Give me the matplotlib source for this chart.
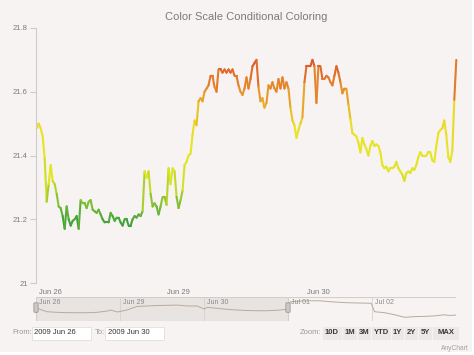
import matplotlib
matplotlib.use("Agg")
import matplotlib.pyplot as plt
import numpy as np
from matplotlib.collections import LineCollection
from matplotlib.colors import LinearSegmentedColormap, Normalize
from matplotlib.patches import Rectangle, FancyBboxPatch

plt.rcParams['font.family'] = ['Liberation Sans', 'DejaVu Sans']

# main series (Jun 26 - Jun 30), one value per point
values = [
    21.485, 21.50, 21.485, 21.46, 21.39, 21.255, 21.31, 21.37, 21.32, 21.31,
    21.28, 21.24, 21.235, 21.21, 21.17, 21.24, 21.20, 21.18, 21.195, 21.20,
    21.21, 21.17, 21.26, 21.25, 21.25, 21.235, 21.255, 21.26, 21.23, 21.225,
    21.22, 21.23, 21.215, 21.20, 21.19, 21.19, 21.19, 21.22, 21.21, 21.195,
    21.205, 21.205, 21.19, 21.18, 21.20, 21.20, 21.18, 21.18, 21.20, 21.21,
    21.205, 21.215, 21.21, 21.225, 21.35, 21.33, 21.35, 21.28, 21.24, 21.25,
    21.24, 21.215, 21.24, 21.27, 21.27, 21.245, 21.36, 21.31, 21.36, 21.35,
    21.27, 21.235, 21.26, 21.29, 21.37, 21.38, 21.40, 21.405, 21.465, 21.51,
    21.495, 21.57, 21.58, 21.57, 21.60, 21.61, 21.62, 21.65, 21.65, 21.615,
    21.60, 21.67, 21.67,
    21.66, 21.67, 21.66, 21.67, 21.66, 21.67, 21.65, 21.65, 21.62, 21.60,
    21.59, 21.61, 21.645, 21.61, 21.64, 21.68, 21.69, 21.70, 21.615, 21.57,
    21.58, 21.55, 21.565, 21.62, 21.61, 21.63, 21.61, 21.60, 21.64, 21.61,
    21.645, 21.61, 21.63, 21.61, 21.55, 21.51, 21.495, 21.455, 21.48, 21.50,
    21.52, 21.63, 21.68, 21.68, 21.68, 21.70, 21.68, 21.565, 21.68, 21.68,
    21.64, 21.64, 21.65, 21.645, 21.63, 21.62, 21.65, 21.68, 21.66, 21.63,
    21.595, 21.61, 21.61, 21.56, 21.515, 21.47, 21.465, 21.46, 21.44, 21.41,
    21.455, 21.435, 21.42, 21.40, 21.43, 21.445, 21.43, 21.435, 21.43, 21.41,
    21.37, 21.36, 21.365, 21.35, 21.36, 21.36, 21.365, 21.38, 21.36, 21.35,
    21.34, 21.32, 21.345, 21.35, 21.345, 21.36, 21.355, 21.37, 21.395, 21.41,
    21.40, 21.40, 21.40, 21.41, 21.41, 21.385, 21.38, 21.43, 21.47, 21.48,
    21.485, 21.51, 21.465, 21.395, 21.38, 21.415, 21.575, 21.70,
]
day_labels = ["Jun 26", "Jun 29", "Jun 30"]
day_start_idx = [0, 64, 134]
y_ticks = [21.0, 21.2, 21.4, 21.6, 21.8]
y_tick_labels = ["21", "21.2", "21.4", "21.6", "21.8"]

# scroller (whole range), x in days from Jun 26
scroll_days = [0.01, 0.13, 0.25, 0.37, 0.49, 0.61, 0.73, 0.85, 0.89, 0.97,
               1.08, 1.20, 1.32, 1.44, 1.56, 1.68, 1.80, 1.92, 2.00, 2.04,
               2.16, 2.28, 2.40, 2.51, 2.63, 2.75, 2.87, 2.98, 3.03, 3.15,
               3.27, 3.38, 3.50, 3.62, 3.74, 3.86, 3.99, 4.03, 4.15, 4.27,
               4.39, 4.51, 4.62, 4.74, 4.86, 4.93, 5.00]
scroll_vals = [21.377, 21.227, 21.20, 21.183, 21.183, 21.183, 21.20, 21.258, 21.30, 21.214,
               21.30, 21.457, 21.48, 21.50, 21.51, 21.52, 21.48, 21.48, 21.346, 21.42,
               21.377, 21.33, 21.30, 21.28, 21.27, 21.27, 21.29, 21.33, 21.67, 21.70,
               21.71, 21.71, 21.67, 21.64, 21.62, 21.61, 21.60, 21.227, 21.183, 21.09,
               20.98, 21.01, 21.02, 21.04, 21.09, 21.06, 21.08]
scroll_labels = ["Jun 26", "Jun 29", "Jun 30", "Jul 01", "Jul 02"]
zoom_buttons = ["10D", "1M", "3M", "YTD", "1Y", "2Y", "5Y", "MAX"]

W, H = 474, 355
bg = '#f6f3f2'
fig = plt.figure(figsize=(W / 100, H / 100), dpi=100, facecolor='white')
fig.patches.append(Rectangle((0, 1 - 352 / H), 472 / W, 352 / H, transform=fig.transFigure,
                             facecolor=bg, edgecolor='none', zorder=-10))

def fx(px):
    return px / W

def fy(py):
    return 1 - py / H

# main plot
ax = fig.add_axes([fx(36), fy(283), fx(458) - fx(36), fy(28) - fy(283)])
ax.set_facecolor('none')
n = len(values)
x = np.arange(n)
y = np.array(values)
pts = np.column_stack([x, y]).reshape(-1, 1, 2)
segs = np.concatenate([pts[:-1], pts[1:]], axis=1)
cmap = LinearSegmentedColormap.from_list('cs', [
    (0.0, '#2e9a3c'), (0.167, '#8ec632'), (0.315, '#e0e622'),
    (0.574, '#ebe326'), (0.76, '#e8a22c'), (1.0, '#df4828')])
norm = Normalize(21.17, 21.71)
lc = LineCollection(segs, colors=cmap(norm((y[:-1] + y[1:]) / 2)), linewidth=1.5,
                    capstyle='round', joinstyle='round')
ax.add_collection(lc)
ax.set_xlim(-0.35, n - 1 + 0.85)
ax.set_ylim(21.0, 21.8)
for s in ['top', 'right', 'bottom']:
    ax.spines[s].set_visible(False)
ax.spines['left'].set_color('#cfcbc8')
ax.spines['left'].set_linewidth(0.8)
ax.set_yticks(y_ticks)
ax.set_yticklabels(y_tick_labels)
ax.tick_params(axis='y', length=4, width=0.8, color='#cfcbc8', labelsize=5.5,
               labelcolor='#7a7a7a', pad=2)
ax.set_xticks([])
for idx, lab in zip(day_start_idx, day_labels):
    ax.annotate(lab, (idx, 21.0), xytext=(2, -4), textcoords='offset points',
                ha='left', va='top', fontsize=5.5, color='#7a7a7a')

fig.text(fx(246), fy(17), "Color Scale Conditional Coloring", ha='center', va='center',
         fontsize=8, color='#7c7c7c')

# scroller
sax = fig.add_axes([fx(36), fy(321), fx(456) - fx(36), fy(297) - fy(321)])
sax.set_facecolor('none')
sax.set_xlim(0, 5)
sax.set_ylim(20.816, 21.877)
sax.axis('off')
sax.add_patch(Rectangle((0, 20.816), 3, 21.877 - 20.816, facecolor='#e8e4e2',
                        edgecolor='#d2cecb', linewidth=0.8, zorder=0))
sax.plot([3, 5], [21.877, 21.877], color='#d2cecb', linewidth=0.8)
for d in [1, 2, 4]:
    sax.plot([d, d], [20.816, 21.877], color='#d6d2cf', linewidth=0.6, zorder=1)
sax.plot(scroll_days, scroll_vals, color='#b8ab9c', linewidth=0.7, zorder=2)
for d, lab in enumerate(scroll_labels):
    sax.annotate(lab, (d, 21.877), xytext=(2, -1.5), textcoords='offset points',
                 ha='left', va='top', fontsize=5, color='#8a8a8a')
for d in [0, 3]:
    sax.add_patch(FancyBboxPatch((d - 0.025, 21.20), 0.05, 0.42,
                                 boxstyle='round,pad=0,rounding_size=0.02',
                                 facecolor='#cdc9c6', edgecolor='#9a9692', linewidth=0.6,
                                 zorder=3, clip_on=False))

# range inputs
fig.text(fx(12), fy(333), "From:", ha='left', va='center', fontsize=5.5, color='#9a9a9a')
fig.text(fx(95), fy(333), "To:", ha='left', va='center', fontsize=5.5, color='#9a9a9a')
for x0, x1, txt in [(32, 91, "2009 Jun 26"), (105, 164, "2009 Jun 30")]:
    fig.patches.append(Rectangle((fx(x0), fy(339.5)), fx(x1) - fx(x0), fy(326.5) - fy(339.5),
                                 transform=fig.transFigure, facecolor='white',
                                 edgecolor='#e2dedb', linewidth=0.6))
    fig.text(fx(x0 + 2.5), fy(333), txt, ha='left', va='center', fontsize=5.5, color='#333333')

# zoom buttons
fig.text(fx(300), fy(333), "Zoom:", ha='left', va='center', fontsize=5.5, color='#9a9a9a')
btn_edges = [322, 342, 357, 371, 391, 404, 418, 432, 459]
for i, lab in enumerate(zoom_buttons):
    x0, x1 = btn_edges[i] + 0.5, btn_edges[i + 1] - 0.5
    fig.patches.append(Rectangle((fx(x0), fy(339.5)), fx(x1) - fx(x0), fy(326.5) - fy(339.5),
                                 transform=fig.transFigure, facecolor='#ebe8e7',
                                 edgecolor='none'))
    fig.text(fx((x0 + x1) / 2), fy(333), lab, ha='center', va='center', fontsize=5.5,
             color='#3a3a3a', fontweight='bold')

fig.text(fx(469), fy(348), "AnyChart", ha='right', va='center', fontsize=4.8, color='#a0a0a0')

fig.savefig('out.png', dpi=100, facecolor=fig.get_facecolor())
